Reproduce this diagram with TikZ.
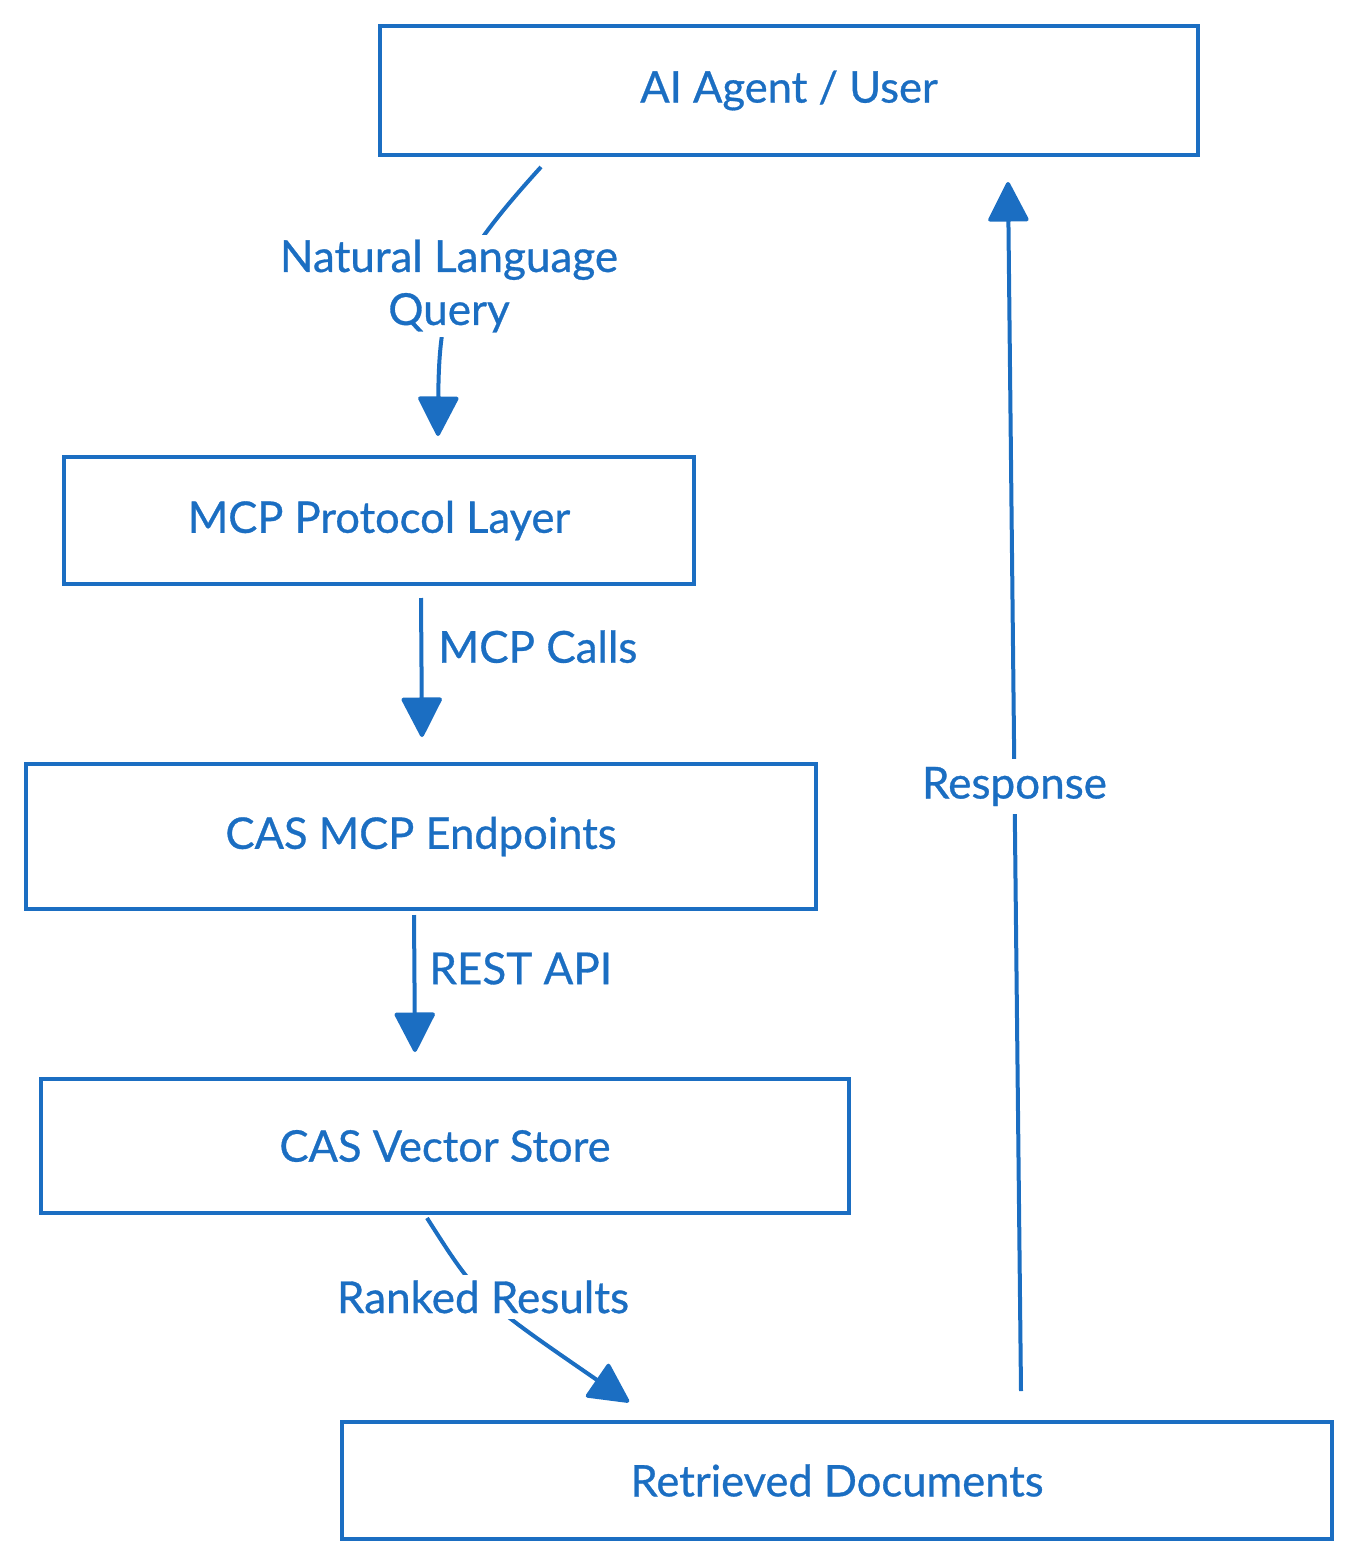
\documentclass[tikz,border=0pt]{standalone}
\usepackage{fontspec}
\setmainfont{Lato}
\newfontfamily\diagfont{Lato}[FakeBold=0.7]
\usetikzlibrary{arrows.meta,calc}
\definecolor{flowblue}{RGB}{27,110,194}
\tikzset{
  box/.style={draw=flowblue, line width=4pt, rectangle, inner sep=0pt, text=flowblue, font=\diagfont\fontsize{43.5}{50}\selectfont},
  conn/.style={draw=flowblue, line width=4pt, -{Triangle[width=42pt,length=42pt,round]}},
  lbl/.style={text=flowblue, font=\diagfont\fontsize{44}{53}\selectfont, align=center},
}
\begin{document}
\begin{tikzpicture}[x=1pt,y=-1pt]
\useasboundingbox (0,0) rectangle (1358,1566);
\node[box, minimum width=818pt, minimum height=129pt] (agent) at (789,90.5) {AI Agent / User};
\node[box, minimum width=630pt, minimum height=127pt] (mcp) at (379,520.5) {MCP Protocol Layer};
\node[box, minimum width=790pt, minimum height=145pt] (endp) at (421,836.5) {CAS MCP Endpoints};
\node[box, minimum width=808pt, minimum height=134pt] (store) at (445,1146) {CAS Vector Store};
\node[box, minimum width=990pt, minimum height=117pt] (docs) at (837,1480.5) {Retrieved Documents};

% Natural Language Query
\draw[conn] ([xshift=-248pt,yshift=-10pt]agent.south) .. controls (452,265) and (439,300) .. ([xshift=59pt,yshift=19pt]mcp.north);
\node[lbl, fill=white, inner sep=5pt] (nlq) at (449,286) {Natural Language\\Query};

% MCP Calls
\draw[conn] ([xshift=42pt,yshift=-12pt]mcp.south) -- ([xshift=1pt,yshift=25pt]endp.north)
  node[lbl, pos=0.35, anchor=west, inner sep=0pt, xshift=15pt] (calls) {MCP Calls};

% REST API
\draw[conn] ([xshift=-7pt,yshift=-4pt]endp.south) -- ([xshift=-30pt,yshift=25pt]store.north)
  node[lbl, pos=0.39, anchor=west, inner sep=0pt, xshift=13pt] (rest) {REST API};

% Ranked Results
\draw[conn] ([xshift=-18pt,yshift=-3pt]store.south) .. controls (478,1298) .. ([xshift=-208pt,yshift=18pt]docs.north);
\node[lbl, fill=white, inner sep=6pt] (ranked) at (483,1297) {Ranked Results};

% Response
\draw[conn] ([xshift=184pt,yshift=29pt]docs.north) -- ([xshift=219pt,yshift=-25pt]agent.south)
  node[lbl, midway, fill=white, inner sep=8pt] (resp) {Response};
\end{tikzpicture}
\end{document}
